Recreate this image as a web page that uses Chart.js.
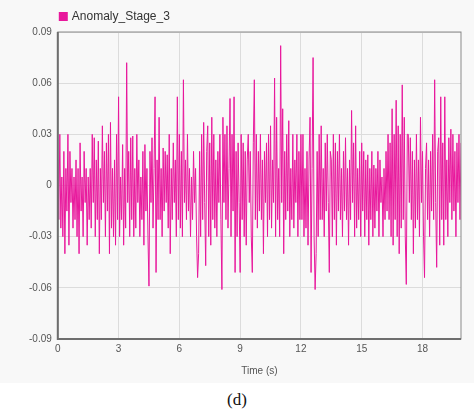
<!DOCTYPE html>
<html><head><meta charset="utf-8">
<script src="https://cdn.jsdelivr.net/npm/chart.js@4"></script>
<style>
html,body{margin:0;padding:0;background:#fff;}
#wrap{position:absolute;left:0;top:0;width:474px;height:383px;background:#f8f8f8;}
#cap{position:absolute;left:0;top:390px;width:474px;text-align:center;font-family:"Liberation Serif",serif;font-size:17px;color:#111;}
</style></head><body>
<div id="wrap"><canvas id="c" width="474" height="383"></canvas></div>
<div id="cap">(d)</div>
<script>
const seriesName = "Anomaly_Stage_3";
const timeStep = 0.05;
const values = [
0.015,-0.02,0.03,-0.025,0.005,-0.03,0.02,-0.04,0.01,-0.015,0.03,-0.035,0.02,-0.01,0.01,-0.025,0.005,-0.02,0.015,-0.03,
0.01,-0.04,0.025,-0.015,0.005,-0.03,0.02,-0.01,0.01,-0.035,0.005,-0.02,0.01,-0.025,0.03,-0.01,0.028,-0.03,0.015,-0.02,
0.026,-0.04,0.01,-0.02,0.035,-0.01,0.02,-0.03,0.025,-0.015,0.03,-0.04,0.037,-0.025,0.01,-0.03,0.015,-0.035,0.03,-0.02,
0.052,-0.03,0.005,-0.02,0.024,-0.035,0.01,-0.025,0.072,-0.01,0.02,-0.03,0.028,-0.02,0.029,-0.03,0.01,-0.025,0.03,-0.01,
0.015,-0.03,0.005,-0.02,0.02,-0.035,0.024,-0.015,0.01,-0.03,-0.059,0.02,-0.01,0.028,-0.025,0.01,0.052,-0.051,0.015,-0.02,
0.04,-0.02,0.01,-0.03,0.022,-0.015,0.02,-0.01,0.018,-0.025,0.03,-0.04,0.01,-0.02,0.025,-0.01,0.015,-0.03,0.052,-0.02,
0.03,-0.025,0.02,-0.03,0.062,-0.01,0.015,-0.02,0.03,-0.015,0.01,-0.03,0.005,-0.02,0.02,-0.01,0.01,-0.03,-0.054,-0.04,
0.02,-0.03,0.03,-0.02,0.037,-0.01,-0.047,0.02,0.035,-0.03,0.025,-0.035,0.04,-0.02,0.03,-0.025,0.015,-0.03,0.02,-0.01,
0.03,-0.02,-0.061,0.04,-0.01,0.03,-0.02,0.035,-0.025,0.01,0.051,-0.03,0.03,-0.015,0.052,-0.051,0.02,-0.03,0.025,-0.01,
-0.051,0.03,-0.02,0.025,-0.03,0.02,-0.035,0.015,0.03,-0.01,0.02,-0.03,-0.051,0.025,0.062,-0.02,0.03,-0.025,0.02,-0.015,
0.03,-0.02,0.015,-0.04,0.02,-0.01,0.025,-0.03,0.03,-0.02,0.035,-0.025,0.015,-0.01,0.063,-0.03,0.04,-0.02,0.01,-0.03,
0.082,-0.01,0.045,-0.04,0.02,-0.02,0.03,-0.015,0.038,-0.03,0.01,-0.02,0.03,-0.025,0.015,-0.01,0.03,-0.03,0.02,-0.02,
0.03,-0.02,0.03,-0.03,0.01,-0.025,0.02,-0.035,0.015,0.04,-0.051,0.01,0.075,-0.03,-0.061,-0.04,0.02,-0.03,0.03,-0.02,
0.035,-0.02,0.01,-0.03,0.025,-0.015,0.03,-0.01,-0.051,0.02,0.015,-0.03,0.03,-0.02,0.025,-0.035,0.02,-0.015,0.03,-0.02,
0.01,-0.03,0.02,-0.015,0.028,-0.02,0.01,-0.035,0.015,-0.02,0.044,-0.01,0.025,-0.03,0.035,-0.025,0.01,-0.02,0.02,-0.03,
0.025,-0.015,0.02,-0.03,0.015,-0.02,0.018,-0.035,0.01,-0.02,0.02,-0.03,0.012,-0.025,0.01,-0.015,0.02,-0.03,0.015,-0.01,
0.005,-0.03,0.01,-0.02,0.02,-0.015,0.03,-0.02,0.025,-0.03,0.045,-0.035,0.03,-0.02,0.05,-0.03,0.035,-0.04,0.03,-0.025,
0.059,-0.02,0.04,-0.03,-0.058,0.03,0.03,-0.01,0.028,-0.02,0.02,-0.04,0.015,-0.025,0.03,-0.02,0.015,-0.03,0.04,-0.01,
0.02,-0.03,-0.054,0.01,0.025,-0.02,0.015,-0.03,0.02,-0.015,0.03,-0.02,0.062,-0.01,-0.048,0.02,0.028,-0.035,0.052,-0.02,
0.025,-0.035,0.052,-0.02,0.015,-0.03,0.028,-0.01,0.033,-0.02,0.03,-0.015,0.02,-0.03,0.025,-0.01,0.03,-0.02,0.025,-0.015
];
const times = values.map((v,i)=>i*timeStep);
const xTicks = [0,3,6,9,12,15,18];
const yTicks = [-0.09,-0.06,-0.03,0,0.03,0.06,0.09];

const frame = {id:'frame',afterDraw(ch){const a=ch.chartArea,c=ch.ctx;c.save();c.strokeStyle='#8a8a8a';c.lineWidth=1;c.strokeRect(a.left,a.top,a.right-a.left,a.bottom-a.top);c.lineWidth=2;c.strokeStyle='#6e6e6e';c.beginPath();c.moveTo(a.left,a.top);c.lineTo(a.left,a.bottom);c.lineTo(a.right,a.bottom);c.stroke();
c.fillStyle='#e8189c';c.fillRect(a.left+1,12,9,9);c.fillStyle='#333';c.font='12px "Liberation Sans"';c.textBaseline='middle';c.fillText(seriesName,a.left+14,17);c.restore();}};

new Chart(document.getElementById('c'),{
type:'line',
data:{datasets:[{label:seriesName,data:times.map((t,i)=>({x:t,y:values[i]})),borderColor:'#e8189c',backgroundColor:'#e8189c',borderWidth:1,pointRadius:0,tension:0}]},
options:{responsive:false,animation:false,
layout:{padding:{left:23,right:13,top:32,bottom:2}},
plugins:{legend:{display:false},tooltip:{enabled:false}},
scales:{
x:{type:'linear',min:0,max:19.9,afterBuildTicks(s){s.ticks=xTicks.map(v=>({value:v}));},
 grid:{color:'#dcdcdc',drawTicks:false},border:{display:false},
 ticks:{color:'#555',font:{family:'Liberation Sans',size:10},padding:4,maxRotation:0},
 title:{display:true,text:'Time (s)',color:'#555',font:{family:'Liberation Sans',size:10},padding:{top:6}}},
y:{min:-0.09,max:0.09,afterBuildTicks(s){s.ticks=yTicks.map(v=>({value:v}));},
 grid:{color:'#dcdcdc',drawTicks:false},border:{display:false},
 ticks:{color:'#555',font:{family:'Liberation Sans',size:10},padding:6,callback:v=>Math.abs(v)<1e-9?'0':v.toFixed(2)}}
}},
plugins:[frame]
});
</script></body></html>
